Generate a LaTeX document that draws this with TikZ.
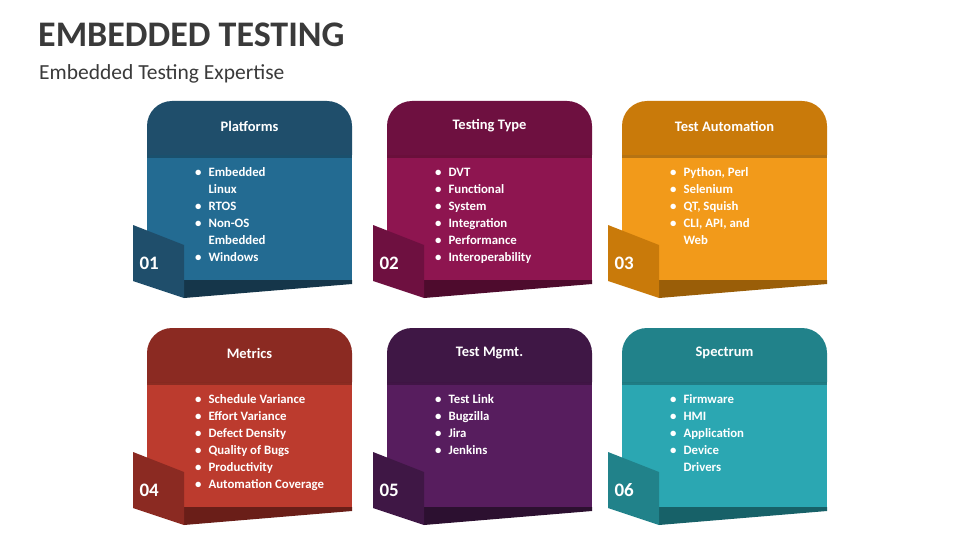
\documentclass[tikz,border=0pt]{standalone}
\usepackage{fontspec}
\setmainfont{Carlito}
\definecolor{ttl}{HTML}{3A3A3A}
\definecolor{h1}{HTML}{1F4E6B}\definecolor{b1}{HTML}{236B92}\definecolor{d1}{HTML}{15364A}
\definecolor{h2}{HTML}{6E1040}\definecolor{b2}{HTML}{8E1550}\definecolor{d2}{HTML}{4E0B2D}
\definecolor{h3}{HTML}{C97A0A}\definecolor{b3}{HTML}{F29A1A}\definecolor{d3}{HTML}{9A5E08}
\definecolor{h4}{HTML}{8B2A22}\definecolor{b4}{HTML}{BC3B2E}\definecolor{d4}{HTML}{6A1E18}
\definecolor{h5}{HTML}{3F1745}\definecolor{b5}{HTML}{571D5E}\definecolor{d5}{HTML}{2C1030}
\definecolor{h6}{HTML}{21828A}\definecolor{b6}{HTML}{2BA7B2}\definecolor{d6}{HTML}{176168}
\tikzset{hdrtxt/.style={text=white,font=\bfseries\fontsize{14.5}{16}\selectfont},
numtxt/.style={text=white,font=\bfseries\fontsize{19}{20}\selectfont,anchor=west},
itemtxt/.style={text=white,anchor=north west,inner sep=0pt,font=\bfseries\fontsize{12.8}{17}\selectfont}}
\newcommand\cardbox[9]{%
 \fill[#4] (#1,#2+50) rectangle (#1+205,#2+180);
 \fill[#3,rounded corners=25pt] (#1,#2+54) -- (#1,#2) -- (#1+205,#2) -- (#1+205,#2+54);
 \fill[black,opacity=.25] (#1,#2+54) rectangle (#1+205,#2+57);
 \fill[#5] (#1+37,#2+179) -- (#1+205,#2+179) -- (#1+205,#2+183) -- (#1+37,#2+197) -- cycle;
 \fill[#3] (#1-14,#2+124) -- (#1+37,#2+144) -- (#1+37,#2+197) -- (#1-14,#2+180) -- cycle;
 \node[hdrtxt] (#9h) at (#1+102.5,#2+25) {#6};
 \node[numtxt] (#9n) at (#1-11,#2+162) {#7};
 \node[itemtxt] (#9i) at (#1+48,#2+63) {\begin{tabular}{@{}l@{\hspace{7pt}}l@{}}#8\end{tabular}};
}
\begin{document}
\begin{tikzpicture}[x=1pt,y=-1pt]
\useasboundingbox (0,0) rectangle (960,540);
\node[anchor=west,text=ttl,font=\bfseries\fontsize{36}{38}\selectfont,inner sep=0pt] (title) at (38,35) {EMBEDDED TESTING};
\node[anchor=west,text=ttl,font=\fontsize{21.5}{24}\selectfont,inner sep=0pt] (sub) at (39,74) {Embedded Testing Expertise};
\cardbox{147}{101}{h1}{b1}{d1}{Platforms}{01}{\textbullet & Embedded\\ & Linux\\ \textbullet & RTOS\\ \textbullet & Non-OS\\ & Embedded\\ \textbullet & Windows}{a}
\cardbox{387}{101}{h2}{b2}{d2}{Testing Type}{02}{\textbullet & DVT\\ \textbullet & Functional\\ \textbullet & System\\ \textbullet & Integration\\ \textbullet & Performance\\ \textbullet & Interoperability}{b}
\cardbox{622}{101}{h3}{b3}{d3}{Test Automation}{03}{\textbullet & Python, Perl\\ \textbullet & Selenium\\ \textbullet & QT, Squish\\ \textbullet & CLI, API, and\\ & Web}{c}
\cardbox{147}{328}{h4}{b4}{d4}{Metrics}{04}{\textbullet & Schedule Variance\\ \textbullet & Effort Variance\\ \textbullet & Defect Density\\ \textbullet & Quality of Bugs\\ \textbullet & Productivity\\ \textbullet & Automation Coverage}{d}
\cardbox{387}{328}{h5}{b5}{d5}{Test Mgmt.}{05}{\textbullet & Test Link\\ \textbullet & Bugzilla\\ \textbullet & Jira\\ \textbullet & Jenkins}{e}
\cardbox{622}{328}{h6}{b6}{d6}{Spectrum}{06}{\textbullet & Firmware\\ \textbullet & HMI\\ \textbullet & Application\\ \textbullet & Device\\ & Drivers}{f}
\end{tikzpicture}
\end{document}
